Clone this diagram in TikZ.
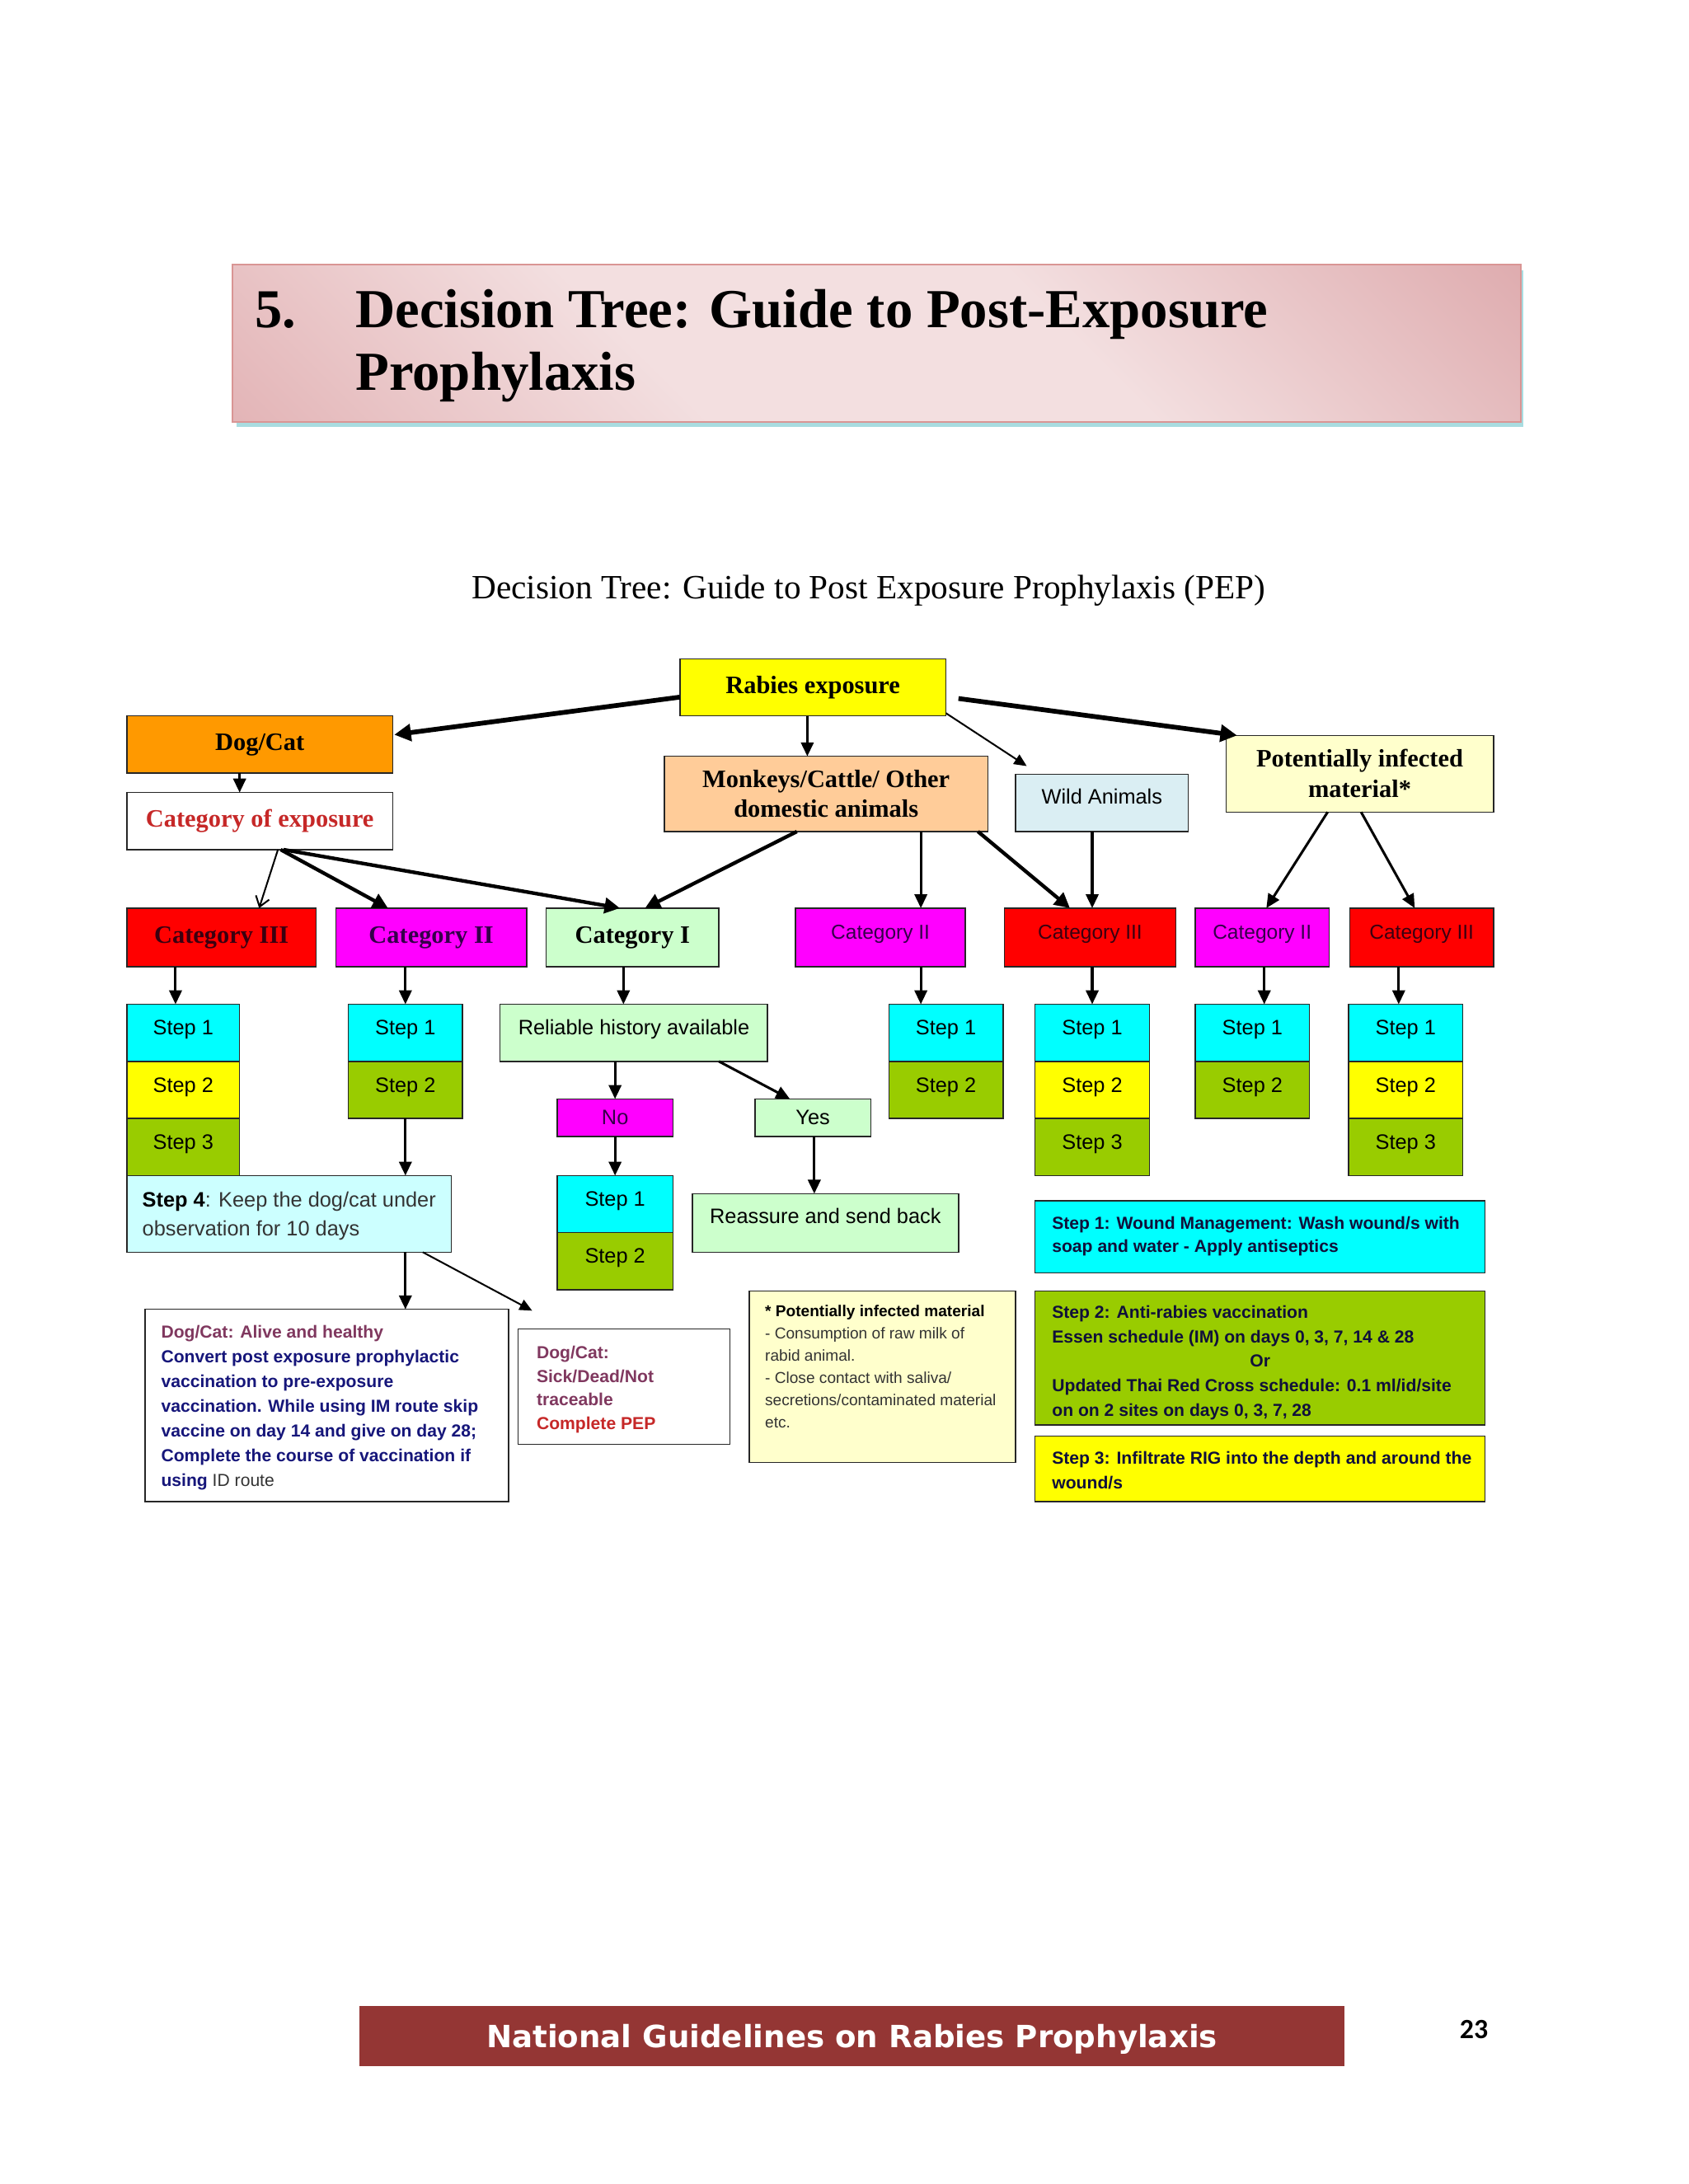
\documentclass[tikz,border=0pt]{standalone}
\usepackage{fontspec}
\setmainfont{Liberation Serif}
\setsansfont{Liberation Sans}
\newfontfamily\footfont{DejaVu Sans}
\newfontfamily\pagefont{Carlito}
\usetikzlibrary{arrows.meta,calc}
\definecolor{cYellow}{HTML}{FFFF00}
\definecolor{cOrange}{HTML}{FF9900}
\definecolor{cPeach}{HTML}{FFCC99}
\definecolor{cWild}{HTML}{DAEEF3}
\definecolor{cLY}{HTML}{FFFFCC}
\definecolor{cRed}{HTML}{FF0000}
\definecolor{cMag}{HTML}{FF00FF}
\definecolor{cLG}{HTML}{CCFFCC}
\definecolor{cCyan}{HTML}{00FFFF}
\definecolor{cGreen}{HTML}{99CC00}
\definecolor{cLC}{HTML}{CCFFFF}
\definecolor{cRose}{HTML}{D99A9D}
\definecolor{cRoseD}{HTML}{D38F93}
\definecolor{cPinkL}{HTML}{F3DFE0}
\definecolor{cRoseEdge}{HTML}{D99594}
\definecolor{cShadow}{HTML}{A9DCE0}
\definecolor{cFoot}{HTML}{943634}
\definecolor{cPurp}{HTML}{80385F}
\definecolor{cNavy}{HTML}{16167A}
\definecolor{cRedT}{HTML}{C62828}
\definecolor{cDarkRed}{HTML}{3A0010}
\definecolor{cDarkMag}{HTML}{35004A}
\definecolor{cGrayT}{HTML}{333333}
\definecolor{cBoxTxt}{HTML}{10103A}

\pgfdeclarehorizontalshading{hdrshade}{100bp}{color(0bp)=(cRose); color(38bp)=(cPinkL); color(60bp)=(cPinkL); color(100bp)=(cRoseD)}

\newcommand\boxat[7]{\node[bx,#6,minimum width={(#4)-(#2)},minimum height={(#5)-(#3)}] (#1) at ({((#2)+(#4))/2},{((#3)+(#5))/2}) {#7};}

\begin{document}
\begin{tikzpicture}[x=1pt,y=-1pt,
  bx/.style={draw=black!85,line width=0.9pt,inner sep=0pt,outer sep=0pt,align=center,text=black},
  ser/.style={font=\fontsize{18}{21}\selectfont\bfseries},
  san/.style={font=\sffamily\fontsize{15}{18}\selectfont},
  sanc/.style={font=\sffamily\fontsize{14.5}{17}\selectfont,text height=11pt,text depth=9pt},
  stp/.style={san,text height=11pt,text depth=8pt},
  up5/.style={text height=11pt,text depth=10pt},
  txtblk/.style={anchor=north west,inner sep=0pt,align=left},
  arr/.style={line width=1.8pt,-{Triangle[length=10pt,width=9pt]}},
  arrmid/.style={line width=2.6pt,-{Triangle[length=11pt,width=11pt]}},
  arrthick/.style={line width=3.4pt,-{Triangle[length=12pt,width=12pt]}},
  arrthin/.style={line width=1.2pt,-{Triangle[length=9pt,width=8pt]}},
  arrbarb/.style={line width=1.2pt,-{Straight Barb[length=7pt,width=10pt]}}]
\useasboundingbox (0,0) rectangle (1212,1568);
\fill[white] (0,0) rectangle (1212,1568);

% header
\fill[cShadow] (170,194) rectangle (1093.5,306.6);
\shade[shading=hdrshade,shading angle=45] (167,190) rectangle (1091.5,303);
\draw[cRoseEdge,line width=1.2pt] (167,190) rectangle (1091.5,303);
\node[anchor=base west,inner sep=0pt,font=\fontsize{39.3}{44}\selectfont\bfseries] (hnum) at (183,235) {5.};
\node[anchor=base west,inner sep=0pt,font=\fontsize{39.5}{44}\selectfont\bfseries] (htitleA) at (255,235) {Decision Tree: Guide to Post-Exposure};
\node[anchor=base west,inner sep=0pt,font=\fontsize{39.5}{44}\selectfont\bfseries] (htitleB) at (255,280) {Prophylaxis};

\node[anchor=base,inner sep=0pt,font=\fontsize{24.4}{28}\selectfont] (sub) at (623.5,430) {Decision Tree: Guide to Post Exposure Prophylaxis (PEP)};

% top level
\boxat{rabies}{488}{473}{679}{514}{ser,fill=cYellow}{Rabies exposure}
\boxat{dog}{91}{514}{282}{555}{ser,fill=cOrange}{Dog/Cat}
\boxat{coe}{91}{569}{282}{610}{ser,fill=white,text=cRedT}{Category of exposure}
\boxat{monk}{477}{543}{709}{597}{ser,fill=cPeach}{Monkeys/Cattle/ Other\\domestic animals}
\boxat{wild}{729}{556}{853}{597}{san,up5,fill=cWild}{Wild Animals}
\boxat{pot}{880}{528}{1072}{583}{ser,font=\fontsize{18}{22}\selectfont\bfseries,fill=cLY}{Potentially infected\\material*}

% categories
\boxat{cA}{91}{652}{227}{694}{ser,fill=cRed,text=cDarkRed}{Category III}
\boxat{cB}{241}{652}{378}{694}{ser,fill=cMag,text=cDarkMag}{Category II}
\boxat{cC}{392}{652}{516}{694}{ser,fill=cLG}{Category I}
\boxat{cD}{571}{652}{693}{694}{sanc,fill=cMag,text=cDarkMag}{Category II}
\boxat{cE}{721}{652}{844}{694}{sanc,fill=cRed,text=cDarkRed}{Category III}
\boxat{cF}{858}{652}{954}{694}{sanc,fill=cMag,text=cDarkMag}{Category II}
\boxat{cG}{969}{652}{1072}{694}{sanc,fill=cRed,text=cDarkRed}{Category III}

% step stacks
\boxat{aS1}{91}{721}{172}{762}{stp,fill=cCyan}{Step 1}
\boxat{aS2}{91}{762}{172}{803}{stp,fill=cYellow}{Step 2}
\boxat{aS3}{91}{803}{172}{844}{stp,fill=cGreen}{Step 3}
\boxat{bS1}{250}{721}{332}{762}{stp,fill=cCyan}{Step 1}
\boxat{bS2}{250}{762}{332}{803}{stp,fill=cGreen}{Step 2}
\boxat{rel}{359}{721}{551}{762}{stp,fill=cLG}{Reliable history available}
\boxat{dS1}{638}{721}{720}{762}{stp,fill=cCyan}{Step 1}
\boxat{dS2}{638}{762}{720}{803}{stp,fill=cGreen}{Step 2}
\boxat{eS1}{743}{721}{825}{762}{stp,fill=cCyan}{Step 1}
\boxat{eS2}{743}{762}{825}{803}{stp,fill=cYellow}{Step 2}
\boxat{eS3}{743}{803}{825}{844}{stp,fill=cGreen}{Step 3}
\boxat{fS1}{858}{721}{940}{762}{stp,fill=cCyan}{Step 1}
\boxat{fS2}{858}{762}{940}{803}{stp,fill=cGreen}{Step 2}
\boxat{gS1}{968}{721}{1050}{762}{stp,fill=cCyan}{Step 1}
\boxat{gS2}{968}{762}{1050}{803}{stp,fill=cYellow}{Step 2}
\boxat{gS3}{968}{803}{1050}{844}{stp,fill=cGreen}{Step 3}

\boxat{no}{400}{789}{483}{816}{san,fill=cMag,text=cDarkMag}{No}
\boxat{yes}{542}{789}{625}{816}{san,fill=cLG}{Yes}
\boxat{nS1}{400}{844}{483}{885}{stp,fill=cCyan}{Step 1}
\boxat{nS2}{400}{885}{483}{926}{stp,fill=cGreen}{Step 2}
\boxat{reas}{497}{857}{688}{899}{san,up5,fill=cLG}{Reassure and send back}

\boxat{sfour}{91}{844}{324}{899}{fill=cLC}{}
\node[txtblk,font=\sffamily\fontsize{15}{20.7}\selectfont,text=cGrayT] (sfourtxt) at (102,854.4) {\rule{0pt}{12pt}\textbf{\color{black}Step 4}: Keep the dog/cat under\\observation for 10 days};

% right info boxes
\boxat{wone}{743}{862}{1066}{914}{fill=cCyan}{}
\node[txtblk,font=\sffamily\bfseries\fontsize{12.5}{16.8}\selectfont,text=cBoxTxt] (wonetxt) at (755,872.3) {\rule{0pt}{10pt}Step 1: Wound Management: Wash wound/s with\\soap and water - Apply antiseptics};
\boxat{wtwo}{743}{927}{1066}{1023}{fill=cGreen}{}
\node[txtblk,font=\sffamily\bfseries\fontsize{12.5}{17.5}\selectfont,text=cBoxTxt] (wtwotxt) at (755,936.4) {\rule{0pt}{10pt}Step 2: Anti-rabies vaccination\\Essen schedule (IM) on days 0, 3, 7, 14 \& 28\\\hspace*{142pt}Or\\Updated Thai Red Cross schedule: 0.1 ml/id/site\\on on 2 sites on days 0, 3, 7, 28};
\boxat{wthree}{743}{1031}{1066}{1078}{fill=cYellow}{}
\node[txtblk,font=\sffamily\bfseries\fontsize{12.5}{17.7}\selectfont,text=cBoxTxt] (wthreetxt) at (755,1041) {\rule{0pt}{10pt}Step 3: Infiltrate RIG into the depth and around the\\wound/s};

% note
\boxat{note}{538}{927}{729}{1050}{fill=cLY}{}
\node[txtblk,font=\sffamily\fontsize{11.3}{15.96}\selectfont,text=cGrayT] (notetxt) at (549,936) {\rule{0pt}{9pt}\textbf{\color{black}* Potentially infected material}\\- Consumption of raw milk of\\rabid animal.\\- Close contact with saliva/\\secretions/contaminated material\\etc.};

% outcome boxes
\boxat{alive}{104}{940}{365}{1078}{fill=white}{}
\node[txtblk,font=\sffamily\bfseries\fontsize{12.5}{17.75}\selectfont,text=cNavy] (alivetxt) at (115.5,950.2) {\rule{0pt}{10pt}\textcolor{cPurp}{Dog/Cat: Alive and healthy}\\Convert post exposure prophylactic\\vaccination to pre-exposure\\vaccination. While using IM route skip\\vaccine on day 14 and give on day 28;\\Complete the course of vaccination if\\using {\mdseries\color{cGrayT}ID route}};
\boxat{sick}{372}{954}{524}{1037}{fill=white}{}
\node[txtblk,font=\sffamily\bfseries\fontsize{12.5}{17.1}\selectfont,text=cPurp] (sicktxt) at (385,965) {\rule{0pt}{10pt}Dog/Cat:\\Sick/Dead/Not\\traceable\\\textcolor{cRedT}{Complete PEP}};

% arrows
\draw[arrthick] ($(rabies.west)+(0,7)$) -- ($(dog.east)+(1,-7)$);
\draw[arr] ($(rabies.south)+(-4,0)$) -- ($(monk.north)+(-13.5,0)$);
\draw[arrthin] ($(rabies.south east)+(0,-2)$) -- ($(wild.north west)+(8,-6)$);
\draw[arrthick] ($(rabies.east)+(9,8)$) -- ($(pot.north west)+(8,0)$);
\draw[arr] ($(dog.south)+(-14.5,0)$) -- ($(coe.north)+(-14.5,0)$);
\draw[arrbarb] ($(coe.south)+(13,0)$) -- ($(cA.north)+(27,0)$);
\draw[arrmid] ($(coe.south)+(15,0)$) -- ($(cB.north)+(-31,0)$);
\draw[arrmid] ($(coe.south)+(17,0)$) -- ($(cC.north)+(-9,0)$);
\draw[arrmid] ($(monk.south)+(-21,0)$) -- ($(cC.north)+(9,0)$);
\draw[arr] ($(monk.south)+(68,0)$) -- ($(cD.north)+(29,0)$);
\draw[arrmid] ($(monk.south)+(109,0)$) -- ($(cE.north)+(-14.5,0)$);
\draw[arr] ($(wild.south)+(-7,0)$) -- ($(cE.north)+(1.5,0)$);
\draw[arr] ($(pot.south)+(-23,0)$) -- ($(cF.north)+(3,0)$);
\draw[arr] ($(pot.south)+(1,0)$) -- ($(cG.north)+(-5,0)$);
\draw[arr] ($(cA.south)+(-33,0)$) -- ($(aS1.north)+(-5.5,0)$);
\draw[arr] ($(cB.south)+(-18.5,0)$) -- (bS1.north);
\draw[arr] ($(cC.south)+(-6.5,0)$) -- ($(rel.north)+(-7.5,0)$);
\draw[arr] ($(cD.south)+(29,0)$) -- ($(dS1.north)+(-18,0)$);
\draw[arr] ($(cE.south)+(1.5,0)$) -- (eS1.north);
\draw[arr] ($(cF.south)+(1.5,0)$) -- ($(fS1.north)+(8.5,0)$);
\draw[arr] ($(cG.south)+(-16.5,0)$) -- ($(gS1.north)+(-5,0)$);
\draw[arr] ($(rel.south)+(-13.5,0)$) -- (no.north);
\draw[arr] ($(rel.south east)+(-35,0)$) -- ($(yes.north west)+(25,0)$);
\draw[arr] (no.south) -- (nS1.north);
\draw[arr] ($(yes.south)+(1,0)$) -- ($(reas.north)+(-8,0)$);
\draw[arr] (bS2.south) -- ($(sfour.north)+(83.5,0)$);
\draw[arr] ($(sfour.south)+(83.5,0)$) -- ($(alive.north)+(56.5,0)$);
\draw[arrthin] ($(sfour.south)+(96,0)$) -- ($(sick.north west)+(10,-13)$);

% footer
\node[fill=cFoot,minimum width=707,minimum height=43,inner sep=0pt,text=white,text depth=0pt,font=\footfont\bfseries\fontsize{22}{26}\selectfont] (footer) at (611.5,1461.9) {National Guidelines on Rabies Prophylaxis};
\node[inner sep=0pt,font=\pagefont\bfseries\fontsize{20}{24}\selectfont] (pnum) at (1058,1456.8) {23};
\end{tikzpicture}
\end{document}
